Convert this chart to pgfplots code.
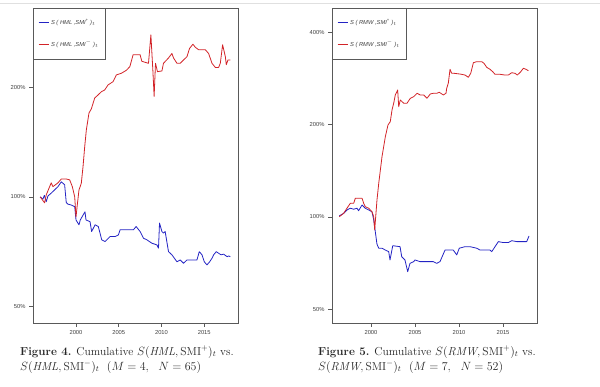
\documentclass[border=0pt]{standalone}
\usepackage{fontspec}
\setsansfont{Liberation Sans}
\usepackage{pgfplots}
\pgfplotsset{compat=1.18}
\definecolor{sblue}{RGB}{35,35,195}
\definecolor{sred}{RGB}{210,35,40}
\pgfplotsset{
  rstyle/.style={
    scale only axis, width=205bp, height=315bp,
    axis line style={black!65, line width=0.6bp},
    tick style={black!65, line width=0.5bp}, tick align=outside,
    major tick length=4bp, xtick pos=bottom, ytick pos=left,
    minor tick num=0,
    xtick={2000,2005,2010,2015}, xticklabels={2000,2005,2010,2015},
    ticklabel style={font=\sffamily\fontsize{5.8}{6}\selectfont, text=black!75},
    legend style={at={(0,1)}, anchor=north west, draw=black!65, line width=0.5bp,
      font=\sffamily\itshape\fontsize{5.8}{6}\selectfont, text=black!75,
      inner xsep=5bp, inner ysep=9bp, row sep=11bp},
    legend cell align=left,
    legend image code/.code={\draw[##1, line width=0.8bp] (0bp,0bp) -- (10bp,0bp);},
    every axis plot/.append style={line width=0.8bp, line join=round},
  }
}
\begin{document}
\begin{tikzpicture}
\useasboundingbox (0,0) rectangle (600bp,387bp);
\draw[black!12, line width=0.8bp] (0,384bp) -- (600bp,384bp);
% ---------------- left panel
\begin{axis}[ymode=log, rstyle, at={(33bp,64bp)}, anchor=south west,
  xmin=1994.97, xmax=2018.95, ymin=45.0, ymax=330.8,
  ytick={50,100,200}, yticklabels={50\%,100\%,200\%}]
\addplot[sblue] coordinates {
(1995.81,100) (1996.13,98.6) (1996.30,101) (1996.52,97) (1996.72,100.6) (1997.10,102.4)
(1997.49,104.5) (1997.89,106.7) (1998.28,110) (1998.67,108) (1998.86,96.5) (1999.06,95.5)
(1999.45,95) (1999.85,94) (2000.00,86.4) (2000.35,83.8) (2000.50,86.4) (2001.05,91)
(2001.17,86.4) (2001.64,85.5) (2001.83,80.3) (2002.23,83.8) (2002.61,82.9) (2003.01,76.2)
(2003.40,75.4) (2003.99,77.8) (2004.57,77.8) (2004.96,78.6) (2005.16,81.2) (2006.72,81.2)
(2007.03,82.9) (2007.50,80.3) (2007.89,77.0) (2008.29,76.2) (2008.87,74.6) (2009.46,73.8)
(2009.65,72.3) (2009.77,84.7) (2010.05,80.3) (2010.23,79.5) (2010.43,80.3) (2010.82,70.7)
(2011.22,69.3) (2011.81,66.3) (2012.19,67.1) (2012.58,65.7) (2012.98,67.1) (2014.15,67.1)
(2014.42,70.7) (2014.74,69.3) (2015.01,66.3) (2015.32,65.0) (2015.63,66.3) (2015.91,67.8)
(2016.10,69.3) (2016.41,70.7) (2016.68,70.0) (2016.96,69.3) (2017.27,69.6) (2017.67,68.5)
(2017.85,68.8) (2018.05,68.5)};
\addlegendentry{S ( HML ,SMI\textsuperscript{+} )$_t$}
\addplot[sred] coordinates {
(1995.81,100) (1996.33,96.3) (1996.52,101.3) (1997.10,109.3) (1997.30,106.7) (1997.89,109.3)
(1998.28,112) (1998.86,112) (1999.26,111.4) (1999.57,106.7) (1999.85,100) (2000.00,88)
(2000.15,95) (2000.35,104.5) (2000.62,109) (2000.82,121) (2001.02,137.5) (2001.21,152.8)
(2001.52,170.2) (2001.79,174.5) (2002.19,187.1) (2002.58,190.7) (2002.97,194.7) (2003.36,196.9)
(2003.75,203.2) (2004.34,207.5) (2004.72,216.5) (2005.31,218.8) (2005.90,223) (2006.30,228.2)
(2006.68,246) (2007.12,246) (2007.50,246) (2007.70,236) (2008.48,233) (2008.76,279)
(2008.99,223) (2009.14,189) (2009.30,233) (2009.53,221) (2010.05,222) (2010.23,233)
(2010.82,241) (2011.22,248) (2011.41,241) (2011.81,233) (2012.19,233) (2012.58,238)
(2012.98,243) (2013.28,256) (2013.68,263) (2013.95,258) (2014.34,254) (2015.12,254)
(2015.51,248) (2015.91,233) (2016.30,227) (2016.68,227) (2016.88,233) (2017.15,262)
(2017.47,243) (2017.58,231) (2017.78,238) (2018.05,238)};
\addlegendentry{S ( HML ,SMI\textsuperscript{$-$} )$_t$}
\end{axis}
% ---------------- right panel
\begin{axis}[ymode=log, rstyle, at={(332bp,64bp)}, anchor=south west,
  xmin=1995.57, xmax=2018.86, ymin=45.1, ymax=480.5,
  ytick={50,100,200,400}, yticklabels={50\%,100\%,200\%,400\%}]
\addplot[sblue] coordinates {
(1996.40,100.8) (1996.90,102.8) (1997.27,105.4) (1997.65,106.8) (1998.03,106.0) (1998.41,106.8)
(1998.59,104.8) (1998.98,109.4) (1999.35,106.8) (1999.74,105.4) (2000.11,104.0) (2000.31,97.8)
(2000.49,89.5) (2000.68,81.5) (2000.88,79.1) (2001.25,79.1) (2001.63,78.0) (2002.01,77.1)
(2002.16,72.4) (2002.47,80.6) (2003.30,80.0) (2003.49,74.2) (2003.86,72.4) (2004.17,66.3)
(2004.43,70.6) (2004.85,71.5) (2005.00,72.4) (2005.57,71.5) (2007.08,71.5) (2007.47,70.6)
(2007.84,71.5) (2008.41,78.0) (2009.35,78.0) (2009.74,75.2) (2010.03,79.1) (2010.68,80.0)
(2011.25,80.0) (2012.01,79.1) (2012.39,78.0) (2013.52,78.0) (2013.72,77.1) (2014.09,80.0)
(2014.47,83.1) (2015.03,82.5) (2015.60,82.5) (2015.99,83.7) (2016.56,83.1) (2017.31,83.1)
(2017.69,83.1) (2017.95,86.7)};
\addlegendentry{S ( RMW ,SMI\textsuperscript{+} )$_t$}
\addplot[sred] coordinates {
(1996.40,100.2) (1996.90,102.8) (1997.27,106.8) (1997.65,110.8) (1998.03,110.8) (1998.22,115.1)
(1998.98,115.1) (1999.17,110.8) (1999.35,108) (1999.74,106.8) (2000.11,104) (2000.31,100.2)
(2000.42,90.7) (2000.68,113.6) (2000.88,128.8) (2001.25,157.3) (2001.44,169.5) (2001.63,182.8)
(2001.93,199.6) (2002.19,204.6) (2002.39,223.4) (2002.58,234.9) (2002.76,250) (2003.03,259.5)
(2003.15,229) (2003.33,240.8) (2003.72,234.9) (2004.09,234.9) (2004.47,243.9) (2004.85,246.8)
(2005.23,253.2) (2005.60,250) (2005.99,250) (2006.36,243.9) (2006.74,251.9) (2007.08,253.2)
(2007.47,253.2) (2007.76,255.1) (2008.22,250) (2008.52,253.2) (2008.60,262.9) (2008.78,272.9)
(2008.98,303.2) (2009.17,294.2) (2009.43,294.2) (2010.11,292.6) (2010.68,290.4) (2011.06,285.6)
(2011.33,294.2) (2011.63,318.6) (2012.01,321.1) (2012.58,321.1) (2012.84,317.1) (2013.15,307.7)
(2013.52,303.2) (2013.83,297.7) (2014.09,292) (2014.66,292) (2015.23,290.4) (2015.60,290.4)
(2015.99,295.5) (2016.36,294.2) (2016.63,290.4) (2017.01,297.7) (2017.31,305.5) (2017.61,303.2)
(2017.88,300)};
\addlegendentry{S ( RMW ,SMI\textsuperscript{$-$} )$_t$}
\end{axis}
% ---------------- captions
\begin{scope}[every node/.style={anchor=base west, inner sep=0pt, text=black!85,
   font=\fontsize{11.6}{14}\selectfont}]
\node at (20bp,32bp) {\textbf{Figure 4.} Cumulative $S(\mathit{HML},\mathrm{SMI}^{+})_t$ vs.};
\node at (20bp,17bp) {$S(\mathit{HML},\mathrm{SMI}^{-})_t$\ \ $(M=4,\ \ N=65)$};
\node at (318bp,32bp) {\textbf{Figure 5.} Cumulative $S(\mathit{RMW},\mathrm{SMI}^{+})_t$ vs.};
\node at (318bp,17bp) {$S(\mathit{RMW},\mathrm{SMI}^{-})_t$\ \ $(M=7,\ \ N=52)$};
\end{scope}
\end{tikzpicture}
\end{document}
